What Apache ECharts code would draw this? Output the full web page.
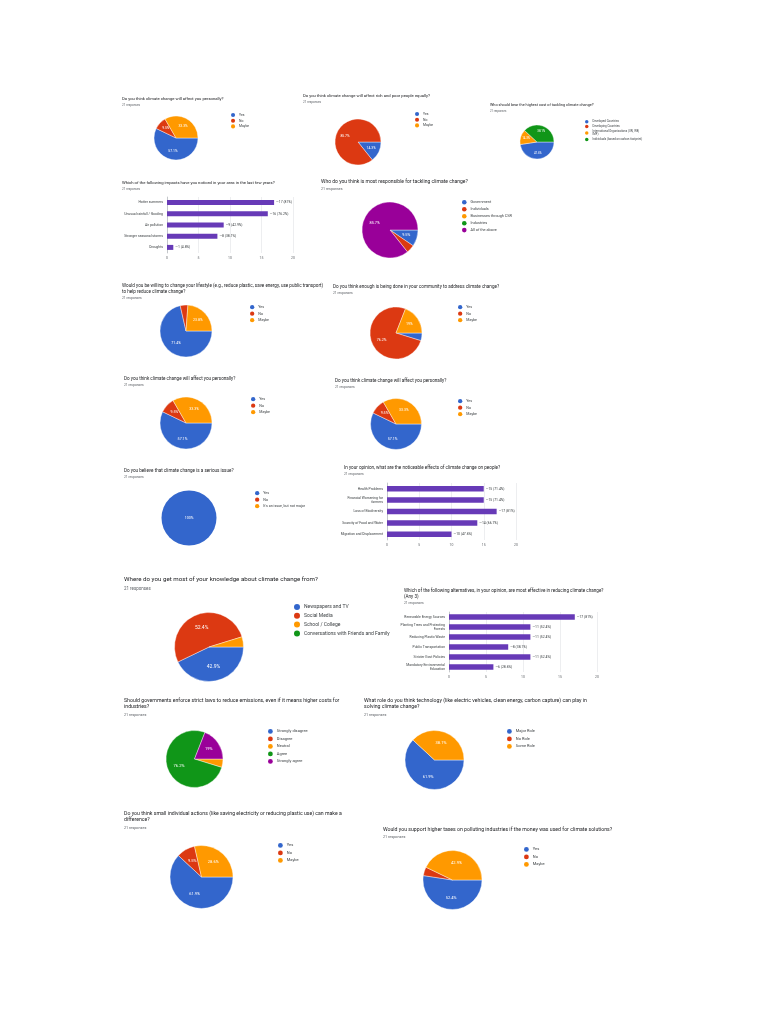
<!DOCTYPE html>
<html><head><meta charset="utf-8">
<script src="https://cdn.jsdelivr.net/npm/echarts@6/dist/echarts.min.js"></script>
<style>html,body{margin:0;padding:0;background:#fff}#c{width:768px;height:1024px}</style>
</head><body><div id="c"></div>
<script>
const RESP = '21 responses';
// ---- data ----
const p1Title = 'Do you think climate change will affect you personally?';
const p1Labels = ['Yes','No','Maybe'];
const p1Values = [12,2,7];

const p2Title = 'Do you think climate change will affect rich and poor people equally?';
const p2Labels = ['Yes','No','Maybe'];
const p2Values = [3,18,0];

const p3Title = 'Who should bear the highest cost of tackling climate change?';
const p3Labels = ['Developed Countries','Developing Countries','International Organizations (UN, WB, IMF)','Individuals (based on carbon footprint)'];
const p3Values = [10,0,3,8];

const p4Title = 'Which of the following impacts have you noticed in your area in the last few years?';
const p4Cats = ['Hotter summers','Unusual rainfall / flooding','Air pollution','Stronger seasonal storms','Droughts'];
const p4Values = [17,16,9,8,1];

const p5Title = 'Who do you think is most responsible for tackling climate change?';
const p5Labels = ['Government','Individuals','Businesses through CSR','Industries','All of the above'];
const p5Values = [2,1,0,0,18];

const p6Title = 'Would you be willing to change your lifestyle (e.g., reduce plastic, save energy, use public transport)\nto help reduce climate change?';
const p6Labels = ['Yes','No','Maybe'];
const p6Values = [15,1,5];

const p7Title = 'Do you think enough is being done in your community to address climate change?';
const p7Labels = ['Yes','No','Maybe'];
const p7Values = [1,16,4];

const p8Title = 'Do you think climate change will affect you personally?';
const p8Labels = ['Yes','No','Maybe'];
const p8Values = [12,2,7];

const p9Title = 'Do you think climate change will affect you personally?';
const p9Labels = ['Yes','No','Maybe'];
const p9Values = [12,2,7];

const p10Title = 'Do you believe that climate change is a serious issue?';
const p10Labels = ['Yes','No',"It's an issue, but not major"];
const p10Values = [21,0,0];

const p11Title = 'In your opinion, what are the noticeable effects of climate change on people?';
const p11Cats = ['Health Problems','Financial Worsening for\nfarmers','Loss of Biodiversity','Scarcity of Food and Water','Migration and Displacement'];
const p11Values = [15,15,17,14,10];

const p12Title = 'Where do you get most of your knowledge about climate change from?';
const p12Labels = ['Newspapers and TV','Social Media','School / College','Conversations with Friends and Family'];
const p12Values = [9,11,1,0];

const p13Title = 'Which of the following alternatives, in your opinion, are most effective in reducing climate change?\n(Any 3)';
const p13Cats = ['Renewable Energy Sources','Planting Trees and Protecting\nForests','Reducing Plastic Waste','Public Transportation','Stricter Govt Policies','Mandatory Environmental\nEducation'];
const p13Values = [17,11,11,8,11,6];

const p14Title = 'Should governments enforce strict laws to reduce emissions, even if it means higher costs for\nindustries?';
const p14Labels = ['Strongly disagree','Disagree','Neutral','Agree','Strongly agree'];
const p14Values = [0,0,1,16,4];

const p15Title = 'What role do you think technology (like electric vehicles, clean energy, carbon capture) can play in\nsolving climate change?';
const p15Labels = ['Major Role','No Role','Some Role'];
const p15Values = [13,0,8];

const p16Title = 'Do you think small individual actions (like saving electricity or reducing plastic use) can make a\ndifference?';
const p16Labels = ['Yes','No','Maybe'];
const p16Values = [13,2,6];

const p17Title = 'Would you support higher taxes on polluting industries if the money was used for climate solutions?';
const p17Labels = ['Yes','No','Maybe'];
const p17Values = [11,1,9];

// ---- rendering ----
const PIE_COLORS = ['#3366cc','#dc3912','#ff9900','#109618','#990099'];
const BAR_COLOR = '#673ab7';
const FONT = 'Roboto, "Noto Sans", Arial, sans-serif';
const chart = echarts.init(document.getElementById('c'), null, {renderer:'canvas'});

const titles = [], legends = [], series = [], grids = [], xAxes = [], yAxes = [];

function fmtPct(p){ let s = p.toFixed(1); if (s.endsWith('.0')) s = s.slice(0,-2); return s + '%'; }

function addTitle(text, x, y, fs, subGap){
  titles.push({text, subtext: RESP, left:x, top:y, padding:0, itemGap: subGap,
    textStyle:{fontSize:fs, fontWeight:'normal', color:'#202124', fontFamily:FONT, lineHeight:fs*1.3},
    subtextStyle:{fontSize:fs*0.72, color:'#5f6368', fontFamily:FONT}});
}

function addPie(labels, values, cx, cy, r, lx, ly, fs, lgap, legendWidth, colors){
  const cols = colors || PIE_COLORS;
  const total = values.reduce((a,b)=>a+b,0);
  series.push({type:'pie', center:[cx,cy], radius:[0,r], startAngle:0, clockwise:true,
    animation:false, silent:true, minShowLabelAngle:0,
    label:{show:true, position:'inside', color:'#fff', fontSize:fs, fontFamily:FONT,
      formatter:p => (p.value/total*100) >= 5 ? fmtPct(p.value/total*100) : ''},
    labelLine:{show:false},
    data: labels.map((n,i)=>{
      const d = {name:n, value:values[i],
        itemStyle:{color:cols[i], borderColor:'#fff', borderWidth: (values[i] > 0 && values[i] < total) ? 0.4 : 0}};
      if (values[i] === total) d.label = {position:'center'};
      return d;
    })});
  legends.push({data:labels, orient:'vertical', left:lx, top:ly, padding:0,
    icon:'circle', itemWidth:fs*1.2, itemHeight:fs*1.2, itemGap:lgap, selectedMode:false,
    itemStyle:{borderWidth:0},
    textStyle:{fontSize:fs, color:'#3c4043', fontFamily:FONT, padding:[0,0,0,-1],
      width:legendWidth||undefined, overflow: legendWidth ? 'break' : 'none', lineHeight:fs*1.2}});
}

function addBar(cats, values, left, top, width, height, fs, barW){
  const gi = grids.length;
  grids.push({left, top, width, height, containLabel:false});
  xAxes.push({type:'value', gridIndex:gi, min:0, max:20, interval:5,
    axisLine:{show:false}, axisTick:{show:false},
    splitLine:{lineStyle:{color:'#dadce0', width:0.5}},
    axisLabel:{fontSize:fs, color:'#5f6368', fontFamily:FONT, margin:4}});
  yAxes.push({type:'category', gridIndex:gi, data:cats, inverse:true,
    axisLine:{show:true, lineStyle:{color:'#9aa0a6', width:0.5}}, axisTick:{show:false},
    axisLabel:{fontSize:fs, color:'#3c4043', fontFamily:FONT, margin:4, lineHeight:fs*1.15}});
  series.push({type:'bar', xAxisIndex:gi, yAxisIndex:gi, data:values, barWidth:barW,
    animation:false, silent:true, itemStyle:{color:BAR_COLOR},
    label:{show:true, position:'right', distance:2, fontSize:fs, color:'#3c4043', fontFamily:FONT,
      formatter:p => '\u2014' + p.value + ' (' + fmtPct(p.value/21*100) + ')'}});
}

// Row 1
addTitle(p1Title, 122, 96, 4.2, 2);
addPie(p1Labels, p1Values, 176, 138, 22, 231, 113, 3.4, 1.6);
addTitle(p2Title, 303, 93, 4.2, 2);
addPie(p2Labels, p2Values, 358, 142, 23, 415, 112, 3.4, 1.6);
addTitle(p3Title, 490, 103, 3.8, 2);
addPie(p3Labels, p3Values, 537, 142, 17, 585, 120, 2.9, 1.3, 52);
// Row 2
addTitle(p4Title, 122, 180, 4.2, 2);
addBar(p4Cats, p4Values, 167, 197, 126, 56, 3.4, 5);
addTitle(p5Title, 321, 178, 5, 2.5);
addPie(p5Labels, p5Values, 390, 230, 28, 462, 200, 3.8, 2.4);
// Row 3
addTitle(p6Title, 122, 283, 4.6, 2);
addPie(p6Labels, p6Values, 186, 331, 26, 250, 305, 3.6, 2.2);
addTitle(p7Title, 333, 284, 4.6, 2);
addPie(p7Labels, p7Values, 396, 333, 26, 458, 305, 3.6, 2.2);
// Row 4
addTitle(p8Title, 124, 376, 4.6, 2);
addPie(p8Labels, p8Values, 186, 423, 26, 251, 397, 3.6, 2.2);
addTitle(p9Title, 335, 378, 4.6, 2);
addPie(p9Labels, p9Values, 396, 424, 25.5, 458, 399, 3.6, 2.2);
// Row 5
addTitle(p10Title, 124, 468, 4.6, 2);
addPie(p10Labels, p10Values, 189, 518, 27.5, 255, 491, 3.6, 2.2);
addTitle(p11Title, 344, 465, 4.6, 2);
addBar(p11Cats, p11Values, 387, 483, 129, 57, 3.4, 5.5);
// Lower section
addTitle(p12Title, 124, 575, 6.2, 4);
addPie(p12Labels, p12Values, 209, 647, 34.5, 294, 604, 5, 2.8);
addTitle(p13Title, 404, 588, 4.6, 2);
addBar(p13Cats, p13Values, 449, 612, 148, 60, 3.4, 5.5);
addTitle(p14Title, 124, 697, 5.2, 2.5);
addPie(p14Labels, p14Values, 194.5, 759, 28.5, 268, 729, 4, 2.7);
addTitle(p15Title, 364, 697, 5.2, 2.5);
addPie(p15Labels, p15Values, 434.5, 760, 29.5, 507, 729, 4, 2.7);
addTitle(p16Title, 124, 810, 5.2, 2.5);
addPie(p16Labels, p16Values, 201.5, 877, 31.5, 278, 843, 4, 2.7);
addTitle(p17Title, 383, 826, 5.2, 2.5);
addPie(p17Labels, p17Values, 452.5, 880, 29.5, 524, 847, 4, 2.7);

chart.setOption({
  backgroundColor:'#ffffff',
  animation:false,
  title:titles, legend:legends, grid:grids, xAxis:xAxes, yAxis:yAxes, series
});
</script></body></html>
